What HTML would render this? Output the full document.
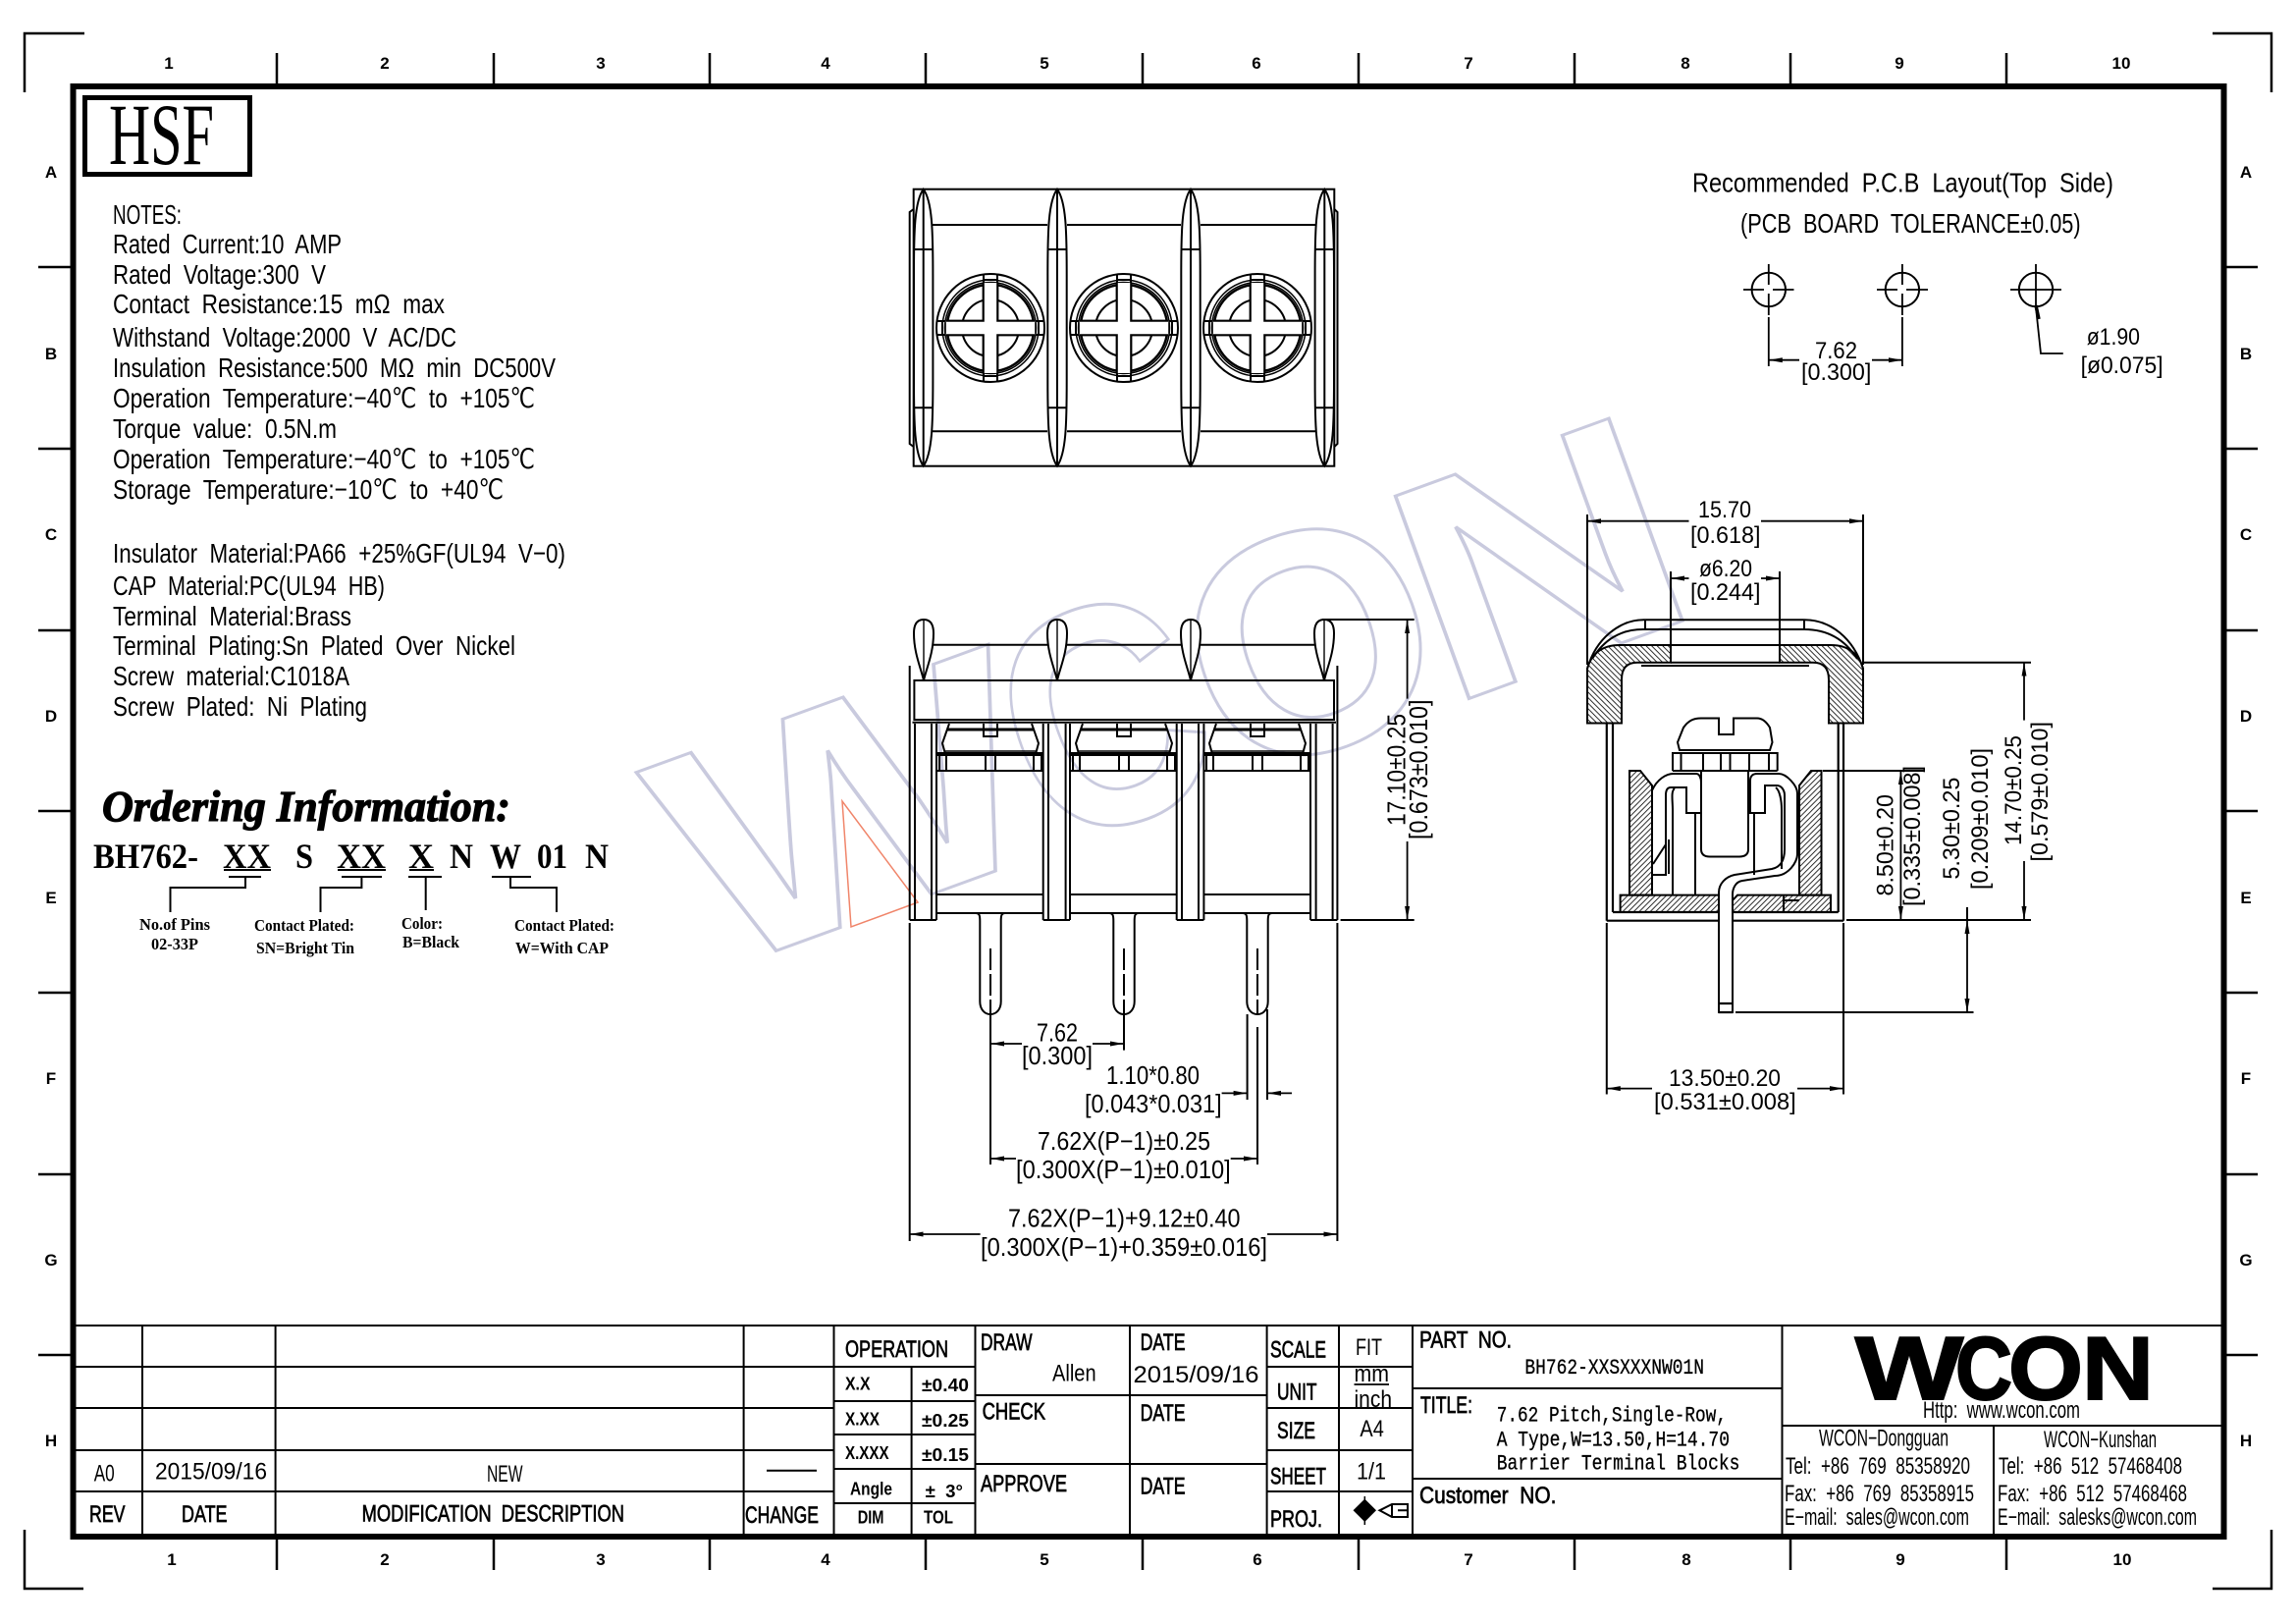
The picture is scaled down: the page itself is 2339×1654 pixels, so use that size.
<!DOCTYPE html>
<html><head><meta charset="utf-8"><style>
html,body{margin:0;padding:0;background:#fff}
svg{display:block}
text{font-family:"Liberation Sans",sans-serif;fill:#000;white-space:pre}
.d{font-size:26px}.s{font-size:24px}.n{font-size:28px}
.b{font-size:24px;font-weight:bold}
.t{font-size:24px}
.tb{stroke:#000;stroke-width:.7}
.m{font-size:22px;font-family:"Liberation Mono",monospace;stroke:#000;stroke-width:.3}
.o{font-family:"Liberation Serif",serif;font-weight:bold}
.g{font-size:17px;font-family:"Liberation Serif",serif;font-weight:bold}
.l{fill:none;stroke:#000;stroke-width:2}
.a{fill:none;stroke:#000;stroke-width:1.8;marker-start:url(#ar);marker-end:url(#ar)}
.e{fill:none;stroke:#000;stroke-width:1.8;marker-end:url(#ar)}
.w{font-size:319px;font-weight:bold;fill:none;stroke:#c9cade;stroke-width:3}
</style></head><body>
<svg xmlns="http://www.w3.org/2000/svg" width="2339" height="1654" viewBox="0 0 2339 1654">
<defs>
<marker id="ar" markerUnits="userSpaceOnUse" markerWidth="16" markerHeight="8" refX="14" refY="4" orient="auto-start-reverse"><path d="M0 1.5L14 4L0 6.5z" fill="#000"/></marker>
<pattern id="h1" patternUnits="userSpaceOnUse" width="5.6" height="5.6"><path d="M-1 -1L6.6 6.6M-1 4.6L1 6.6M4.6 -1L6.6 1" stroke="#000" stroke-width=".8"/></pattern>
<pattern id="h2" patternUnits="userSpaceOnUse" width="5.6" height="5.6"><path d="M-1 6.6L6.6 -1M-1 1L1 -1M4.6 6.6L6.6 4.6" stroke="#000" stroke-width=".8"/></pattern>
<g id="rib" class="l"><path d="M0 192.7C-9 205 -9.7 235 -9.7 280L-9.7 387C-9.7 432 -9 462 0 474.7C9 462 9.7 432 9.7 387L9.7 280C9.7 235 9 205 0 192.7zM0 192.7V474.7M-9.7 254H9.7M-9.7 415.3H9.7"/></g>
<g id="scr" class="l">
<circle r="55"/><circle r="49" stroke-width="1.5"/><circle r="46.5" stroke-width="1.5"/><circle r="44.3" stroke-width="2.5"/><circle r="29"/>
<path d="M-7.3 -46V-7.3H-45V7.3H-7.3V46H7.3V7.3H45V-7.3H7.3V-46z" fill="#fff" stroke="none"/>
<path d="M-7.3 -46V-7.3H-45M-45 7.3H-7.3V46M7.3 46V7.3H45M45 -7.3H7.3V-46" stroke-width="2.2"/>
<path d="M-7 -55V-46M7 -55V-46M-7 -49H7M-7 46V55M7 46V55M-7 49H7M-55 -7H-46M-55 7H-46M-49 -7V7M46 -7H55M46 7H55M49 -7V7"/>
</g>
<g id="blade"><path class="l" style="fill:#fff" d="M0 693C-3 680 -10 665 -10 645C-10 635 -6 631 0 631C6 631 10 635 10 645C10 665 3 680 0 693z"/><path class="l" style="stroke-width:1.4" d="M0 631V693"/></g>
<g id="head" class="l">
<path d="M-42 737L-49 757L-46 768M42 737L49 757L46 768"/>
<path d="M-44 743H44" stroke-width="3"/>
<path d="M-47 765H47" stroke-width="1.6"/>
<path d="M-7 737V750H7V737"/>
<path d="M-55 768H54" stroke-width="4"/><path d="M-55 785H54"/>
<path d="M-45 768V785M-5 768V785M5 768V785M44 768V785M-52 768V785M52 768V785"/>
</g>
<g id="pin" class="l">
<path d="M-15 930C-11 930 -10.7 933 -10.7 938V1020C-10.7 1028 -6 1033 0 1033C6 1033 10.7 1028 10.7 1020V938C10.7 933 11 930 15 930"/>
</g>
</defs>

<!-- watermark -->
<g transform="translate(723,993) rotate(-20)">
<text class="w" x="0" y="0" textLength="382" lengthAdjust="spacingAndGlyphs">W</text>
<text class="w" x="367" y="0" textLength="199" lengthAdjust="spacingAndGlyphs">C</text>
<text class="w" x="565" y="0" textLength="250" lengthAdjust="spacingAndGlyphs">O</text>
<text class="w" x="797" y="0" textLength="284" lengthAdjust="spacingAndGlyphs">N</text>
</g>
<path d="M858 816L867 944L935 919z" fill="none" stroke="#f0856a" stroke-width="1.5"/>

<!-- frame -->
<rect x="74.5" y="88" width="2191" height="1477" fill="none" stroke="#000" stroke-width="6"/>
<g class="l">
<path d="M25 94V34H86M2254 34H2314V94M25 1558V1618H85M2254 1618H2314V1558" stroke-width="2.5"/>
<path stroke-width="2.5" d="M282 54V86M503 54V86M723 54V86M943 54V86M1164 54V86M1384 54V86M1604 54V86M1824 54V86M2044 54V86
M282 1568V1599M503 1568V1599M723 1568V1599M943 1568V1599M1164 1568V1599M1384 1568V1599M1604 1568V1599M1824 1568V1599M2044 1568V1599
M39 272H72M39 457H72M39 642H72M39 826H72M39 1011H72M39 1196H72M39 1380H72
M2268 272H2300M2268 457H2300M2268 642H2300M2268 826H2300M2268 1011H2300M2268 1196H2300M2268 1380H2300"/>
</g>
<g style="font-weight:bold;font-size:17px" text-anchor="middle">
<text x="172" y="70">1</text><text x="392" y="70">2</text><text x="612" y="70">3</text><text x="841" y="70">4</text><text x="1064" y="70">5</text><text x="1280" y="70">6</text><text x="1496" y="70">7</text><text x="1717" y="70">8</text><text x="1935" y="70">9</text><text x="2161" y="70">10</text>
<text x="175" y="1594">1</text><text x="392" y="1594">2</text><text x="612" y="1594">3</text><text x="841" y="1594">4</text><text x="1064" y="1594">5</text><text x="1281" y="1594">6</text><text x="1496" y="1594">7</text><text x="1718" y="1594">8</text><text x="1936" y="1594">9</text><text x="2162" y="1594">10</text>
<text x="52" y="181">A</text><text x="52" y="366">B</text><text x="52" y="550">C</text><text x="52" y="735">D</text><text x="52" y="920">E</text><text x="52" y="1104">F</text><text x="52" y="1289">G</text><text x="52" y="1473">H</text>
<text x="2288" y="181">A</text><text x="2288" y="366">B</text><text x="2288" y="550">C</text><text x="2288" y="735">D</text><text x="2288" y="920">E</text><text x="2288" y="1104">F</text><text x="2288" y="1289">G</text><text x="2288" y="1473">H</text>
</g>

<!-- HSF -->
<rect x="86.5" y="99.5" width="168" height="78" fill="none" stroke="#000" stroke-width="5"/>
<text x="111" y="167" textLength="107" lengthAdjust="spacingAndGlyphs" style="font-family:'Liberation Serif',serif;font-size:89px">HSF</text>

<!-- notes -->
<g>
<text class="n" x="115" y="228" textLength="70" lengthAdjust="spacingAndGlyphs">NOTES:</text>
<text class="n" x="115" y="258" textLength="233" lengthAdjust="spacingAndGlyphs">Rated  Current:10  AMP</text>
<text class="n" x="115" y="289" textLength="217" lengthAdjust="spacingAndGlyphs">Rated  Voltage:300  V</text>
<text class="n" x="115" y="319" textLength="338" lengthAdjust="spacingAndGlyphs">Contact  Resistance:15  mΩ  max</text>
<text class="n" x="115" y="353" textLength="350" lengthAdjust="spacingAndGlyphs">Withstand  Voltage:2000  V  AC/DC</text>
<text class="n" x="115" y="384" textLength="451" lengthAdjust="spacingAndGlyphs">Insulation  Resistance:500  MΩ  min  DC500V</text>
<text class="n" x="115" y="415" textLength="430" lengthAdjust="spacingAndGlyphs">Operation  Temperature:−40℃  to  +105℃</text>
<text class="n" x="115" y="446" textLength="228" lengthAdjust="spacingAndGlyphs">Torque  value:  0.5N.m</text>
<text class="n" x="115" y="477" textLength="430" lengthAdjust="spacingAndGlyphs">Operation  Temperature:−40℃  to  +105℃</text>
<text class="n" x="115" y="508" textLength="398" lengthAdjust="spacingAndGlyphs">Storage  Temperature:−10℃  to  +40℃</text>
<text class="n" x="115" y="573" textLength="461" lengthAdjust="spacingAndGlyphs">Insulator  Material:PA66  +25%GF(UL94  V−0)</text>
<text class="n" x="115" y="606" textLength="277" lengthAdjust="spacingAndGlyphs">CAP  Material:PC(UL94  HB)</text>
<text class="n" x="115" y="637" textLength="243" lengthAdjust="spacingAndGlyphs">Terminal  Material:Brass</text>
<text class="n" x="115" y="667" textLength="410" lengthAdjust="spacingAndGlyphs">Terminal  Plating:Sn  Plated  Over  Nickel</text>
<text class="n" x="115" y="698" textLength="241" lengthAdjust="spacingAndGlyphs">Screw  material:C1018A</text>
<text class="n" x="115" y="729" textLength="259" lengthAdjust="spacingAndGlyphs">Screw  Plated:  Ni  Plating</text>
</g>

<!-- ordering -->
<text x="104" y="836" textLength="416" lengthAdjust="spacingAndGlyphs" style="font-family:'Liberation Serif',serif;font-weight:bold;font-style:italic;font-size:44px;stroke:#000;stroke-width:1.2">Ordering Information:</text>
<g>
<text class="o" style="font-size:36px" x="95" y="884" textLength="107" lengthAdjust="spacingAndGlyphs">BH762-</text>
<text class="o" style="font-size:36px" x="227" y="884" textLength="49" lengthAdjust="spacingAndGlyphs">XX</text>
<text class="o" style="font-size:36px" x="301" y="884" textLength="18" lengthAdjust="spacingAndGlyphs">S</text>
<text class="o" style="font-size:36px" x="343" y="884" textLength="50" lengthAdjust="spacingAndGlyphs">XX</text>
<text class="o" style="font-size:36px" x="416" y="884" textLength="26" lengthAdjust="spacingAndGlyphs">X</text>
<text class="o" style="font-size:36px" x="458" y="884" textLength="24" lengthAdjust="spacingAndGlyphs">N</text>
<text class="o" style="font-size:36px" x="499" y="884" textLength="32" lengthAdjust="spacingAndGlyphs">W</text>
<text class="o" style="font-size:36px" x="547" y="884" textLength="31" lengthAdjust="spacingAndGlyphs">01</text>
<text class="o" style="font-size:36px" x="596" y="884" textLength="24" lengthAdjust="spacingAndGlyphs">N</text>
</g>
<path class="l" d="M228 886H276M344 886H393M417 886H442M233 893H266M348 893H389M416 893H450M501 893H541M250 893V904H173.5V929M368.4 893V904H326.5V929M433.7 893V927M520 893V904H567V929"/>
<text class="g" x="142" y="947" textLength="72" lengthAdjust="spacingAndGlyphs">No.of Pins</text>
<text class="g" x="154" y="967" textLength="48" lengthAdjust="spacingAndGlyphs">02-33P</text>
<text class="g" x="259" y="948" textLength="102" lengthAdjust="spacingAndGlyphs">Contact Plated:</text>
<text class="g" x="261" y="971" textLength="100" lengthAdjust="spacingAndGlyphs">SN=Bright Tin</text>
<text class="g" x="409" y="946" textLength="42" lengthAdjust="spacingAndGlyphs">Color:</text>
<text class="g" x="410" y="965" textLength="58" lengthAdjust="spacingAndGlyphs">B=Black</text>
<text class="g" x="524" y="948" textLength="102" lengthAdjust="spacingAndGlyphs">Contact Plated:</text>
<text class="g" x="525" y="971" textLength="95" lengthAdjust="spacingAndGlyphs">W=With CAP</text>

<!-- top view -->
<rect class="l" x="930.7" y="192.7" width="428.6" height="282" stroke-width="2.2"/>
<path class="l" stroke-width="2.2" d="M950 229H1067M1087 229H1203M1223 229H1340M950 439.3H1067M1087 439.3H1203M1223 439.3H1340M930.7 213L926.7 216V452L930.7 455M1359.3 213L1362.5 216V452L1359.3 455"/>
<use href="#rib" x="940.7"/><use href="#rib" x="1077"/><use href="#rib" x="1213"/><use href="#rib" x="1349.3"/>
<use href="#scr" x="1009" y="334"/><use href="#scr" x="1145" y="334"/><use href="#scr" x="1281" y="334"/>

<!-- front view -->
<path class="l" d="M931 656.7H1359"/>
<use href="#blade" x="941"/><use href="#blade" x="1077"/><use href="#blade" x="1213"/><use href="#blade" x="1349"/>
<path class="l" d="M931.4 693H1359V733H931.4zM929.5 735.7H1361M926.7 678V937M1362.4 678V937" stroke-width="2"/>
<path class="l" stroke-width="2" d="M954 737V937M1062.7 737V937M1090 737V937M1198.7 737V937M1226.4 737V937M1335 737V937
M932 737V937M949 737V937M1068 737V937M1085.6 737V937M1204 737V937M1221 737V937M1340.6 737V937M1357.6 737V937
M926.7 937H954M1062.7 937H1090M1198.7 937H1226.4M1335 937H1362.4
M954 911H1062.7M1090 911H1198.7M1226.4 911H1335M954 930H1062.7M1090 930H1198.7M1226.4 930H1335"/>
<use href="#head" x="1009"/><use href="#head" x="1145"/><use href="#head" x="1281"/>
<use href="#pin" x="1009"/><use href="#pin" x="1145"/><use href="#pin" x="1281"/>
<path class="l" stroke-width="1.8" d="M1009 966V1033M1145 966V1033M1281 966V1033" stroke-dasharray="22 4"/>

<!-- front dims -->
<path class="l" stroke-width="1.8" d="M1347 631H1440.7M1365.6 937H1440.7M926.7 940V1264M1362.4 940V1264M1009 1033V1186M1145 1033V1069.6M1281 1046V1186M1270.6 1033V1120M1291 1028V1120"/>
<path class="e" d="M1433.6 711.6V631"/><path class="e" d="M1433.6 857V937"/>
<path class="e" d="M1041 1063H1009"/><path class="e" d="M1113 1063H1145"/>
<path class="e" d="M1244.6 1113.4H1270.6"/><path class="e" d="M1316 1113.4H1291"/>
<path class="e" d="M1035 1180H1009"/><path class="e" d="M1253.7 1180H1281"/>
<path class="e" d="M998.6 1257H926.7"/><path class="e" d="M1291 1257H1362.4"/>
<text class="d" transform="translate(1431.6,841) rotate(-90)" textLength="114" lengthAdjust="spacingAndGlyphs">17.10±0.25</text>
<text class="d" transform="translate(1454,855) rotate(-90)" textLength="142.5" lengthAdjust="spacingAndGlyphs">[0.673±0.010]</text>
<text class="d" x="1056" y="1060.7" textLength="42" lengthAdjust="spacingAndGlyphs">7.62</text>
<text class="d" x="1041" y="1084" textLength="72" lengthAdjust="spacingAndGlyphs">[0.300]</text>
<text class="d" x="1127" y="1104" textLength="95" lengthAdjust="spacingAndGlyphs">1.10*0.80</text>
<text class="d" x="1105" y="1133" textLength="139.6" lengthAdjust="spacingAndGlyphs">[0.043*0.031]</text>
<text class="d" x="1057" y="1171" textLength="176" lengthAdjust="spacingAndGlyphs">7.62X(P−1)±0.25</text>
<text class="d" x="1035" y="1200" textLength="218.7" lengthAdjust="spacingAndGlyphs">[0.300X(P−1)±0.010]</text>
<text class="d" x="1027" y="1249.5" textLength="236.5" lengthAdjust="spacingAndGlyphs">7.62X(P−1)+9.12±0.40</text>
<text class="d" x="999" y="1279" textLength="292" lengthAdjust="spacingAndGlyphs">[0.300X(P−1)+0.359±0.016]</text>

<!-- side view -->
<g class="l" stroke-width="2">
<path d="M1617 681C1626 650 1650 631.3 1674.7 631.3H1838C1865 631.3 1888 650 1898 681"/>
<path d="M1622 671C1634 652 1650 641 1674 641H1838C1862 641 1880 652 1892 671M1676 631V641M1838 631V641M1702 657H1813"/>
<path d="M1617 736.5V681C1621 666 1632 657 1650 657H1702V674.7H1668C1657 674.7 1652 681 1652 692V736.5z" style="fill:url(#h1)"/>
<path d="M1898 736.5V681C1894 666 1883 657 1865 657H1813V674.7H1847C1858 674.7 1863 681 1863 692V736.5z" style="fill:url(#h1)"/>
<path d="M1672 678H1843"/>
<path d="M1702 674.7H1813"/>
<path d="M1636.8 736.5V937.7M1643 736.5V929M1872.7 736.5V929M1878 736.5V937.7M1636.8 937.7H1878M1643 929H1872.7" stroke-width="2.2"/>
<path d="M1660 785H1671L1683 800V911.6H1660z" style="fill:url(#h2)"/>
<path d="M1833 800L1845 785H1855.5V911.6H1833z" style="fill:url(#h2)"/>
<path d="M1650.6 929V911.6H1751V929M1765 929V917L1770 911.6H1865V929" style="fill:url(#h2)"/>
<path d="M1817 911.6V929H1833M1817 917H1833"/>
<path d="M1709 756L1715 741C1720 734 1725 731.5 1733 731.5H1751V748H1766V731.5H1790C1796 731.5 1800 736 1803 741L1805.5 756L1803 764H1711z"/>
<path d="M1704 785V767H1810.7V785M1712.5 767V785M1735 767V785M1753 767V785M1762.5 767V785M1782 767V785M1802 767V785M1704 785H1810.7"/>
<path d="M1733 785V865C1733 870 1736 872.5 1742 872.5H1772C1778 872.5 1781 870 1781 865V785"/>
<path d="M1683 891V805C1688 794 1697 788 1705 788H1728C1731 788 1733 792 1733 797V828H1718V802H1702C1698 802 1697 806 1697 810V891H1683M1706 803C1702 806 1704 815 1704 825V911M1727 828V911M1697 860L1684 880M1700 855V890"/>
<path d="M1783 828V795C1783 790 1786 788 1790 788H1812C1820 788 1831 800 1831 808V870C1831 878 1822 892 1808 892L1775 897C1768 898 1765 905 1765 911V1031H1751V909C1751 900 1758 893 1767 891L1805 885C1815 883 1818 875 1818 865V810C1818 805 1815 800 1810 800H1798V828H1783z" style="fill:#fff"/>
<path d="M1787 828V891M1809 802C1813 805 1815 815 1815 825V885"/>
<path d="M1751 1031H1765M1751 1022H1765" stroke-width="2.2"/>
</g>
<!-- side dims -->
<path class="l" stroke-width="1.8" d="M1617 524V677M1898 524V677M1702 582V672.5M1813 582V672.5M1636.8 940V1114.5M1878 940V1114.5M1857 785H1960.5M1898.5 674.7H2069M1881 937H2069M1768 1031H2010.5M2004 924V937"/>
<path class="e" d="M1720.5 530.7H1617"/><path class="e" d="M1794 530.7H1898"/>
<path class="e" d="M1720.5 589H1702"/><path class="e" d="M1794 589H1813"/>
<path class="e" d="M1683 1108.6H1636.8"/><path class="e" d="M1831 1108.6H1878"/>
<path class="a" d="M1936.4 785V937"/><path class="a" d="M2004 937V1031"/>
<path class="e" d="M2062 733.6V674.7"/><path class="e" d="M2062 877V937"/>
<text class="s" x="1730" y="527" textLength="54" lengthAdjust="spacingAndGlyphs">15.70</text>
<text class="s" x="1722" y="553" textLength="71.5" lengthAdjust="spacingAndGlyphs">[0.618]</text>
<text class="s" x="1731" y="587" textLength="54" lengthAdjust="spacingAndGlyphs">ø6.20</text>
<text class="s" x="1722" y="611" textLength="71.5" lengthAdjust="spacingAndGlyphs">[0.244]</text>
<text class="s" x="1700" y="1106" textLength="114" lengthAdjust="spacingAndGlyphs">13.50±0.20</text>
<text class="s" x="1685" y="1130" textLength="144.7" lengthAdjust="spacingAndGlyphs">[0.531±0.008]</text>
<text class="s" transform="translate(1928.5,912.5) rotate(-90)" textLength="103.5" lengthAdjust="spacingAndGlyphs">8.50±0.20</text>
<text class="s" transform="translate(1956,923) rotate(-90)" textLength="143" lengthAdjust="spacingAndGlyphs">[0.335±0.008]</text>
<text class="s" transform="translate(1996,895.6) rotate(-90)" textLength="104" lengthAdjust="spacingAndGlyphs">5.30±0.25</text>
<text class="s" transform="translate(2025,906) rotate(-90)" textLength="144" lengthAdjust="spacingAndGlyphs">[0.209±0.010]</text>
<text class="s" transform="translate(2059,861) rotate(-90)" textLength="112" lengthAdjust="spacingAndGlyphs">14.70±0.25</text>
<text class="s" transform="translate(2086,877.5) rotate(-90)" textLength="142.5" lengthAdjust="spacingAndGlyphs">[0.579±0.010]</text>

<!-- pcb layout -->
<text class="n" x="1724" y="195.7" textLength="429" lengthAdjust="spacingAndGlyphs">Recommended  P.C.B  Layout(Top  Side)</text>
<text class="n" x="1773" y="237" textLength="346.6" lengthAdjust="spacingAndGlyphs">(PCB  BOARD  TOLERANCE±0.05)</text>
<g class="l"><circle cx="1801.8" cy="295" r="17.2"/><circle cx="1937.9" cy="295" r="17.2"/><circle cx="2074" cy="295" r="17.2"/>
<path stroke-width="1.8" d="M1776 295H1797M1806 295H1827.5M1912 295H1933M1942 295H1964M2048 295H2100M1801.8 269V290M1801.8 299V321M1937.9 269V290M1937.9 299V321M2074 269V313M1801.8 323V373M1937.9 323V373"/>
<path d="M2074 313L2079 360H2101.8" stroke-width="1.8"/><path d="M2074 311L2077 325" stroke-width="3.5"/></g>
<path class="e" d="M1833 366.7H1801.8"/><path class="e" d="M1907 366.7H1938"/>
<text class="s" x="1849" y="365" textLength="43" lengthAdjust="spacingAndGlyphs">7.62</text>
<text class="s" x="1835" y="387" textLength="71.4" lengthAdjust="spacingAndGlyphs">[0.300]</text>
<text class="s" x="2125.7" y="351" textLength="54.3" lengthAdjust="spacingAndGlyphs">ø1.90</text>
<text class="s" x="2119.6" y="380" textLength="84" lengthAdjust="spacingAndGlyphs">[ø0.075]</text>

<!-- title block lines -->
<g class="l" stroke-width="2.5">
<path d="M75 1350H2265M75 1392H850M75 1434H850M75 1477H850M75 1519H850M145 1350V1562M280.6 1350V1562M757.6 1350V1562M849.5 1350V1562M928.6 1392V1562M993.5 1350V1562"/>
<path d="M849.5 1392H993.5M849.5 1427H993.5M849.5 1461H993.5M849.5 1496H993.5M849.5 1531H993.5"/>
<path d="M993.5 1421H1290.6M993.5 1491H1290.6M1151 1350V1562M1290.6 1350V1562M1364 1350V1562M1439 1350V1562M1290.6 1392H1439M1290.6 1434H1439M1290.6 1477H1439M1290.6 1519H1439"/>
<path d="M1439 1414H1815M1439 1506H1815M1815.5 1350V1562M1815.5 1452H2265M2031 1452V1562"/>
</g>
<path d="M781 1497.7H832" stroke="#000" stroke-width="2"/>

<!-- title block text -->
<text class="t tb" x="861" y="1382" textLength="105" lengthAdjust="spacingAndGlyphs">OPERATION</text>
<g style="font-size:18px;font-weight:bold">
<text x="861" y="1415.7" textLength="25.5" lengthAdjust="spacingAndGlyphs">X.X</text>
<text x="939" y="1417" textLength="48" lengthAdjust="spacingAndGlyphs">±0.40</text>
<text x="861" y="1451.7" textLength="35" lengthAdjust="spacingAndGlyphs">X.XX</text>
<text x="939" y="1453" textLength="48" lengthAdjust="spacingAndGlyphs">±0.25</text>
<text x="861" y="1486" textLength="44.6" lengthAdjust="spacingAndGlyphs">X.XXX</text>
<text x="939" y="1488" textLength="48" lengthAdjust="spacingAndGlyphs">±0.15</text>
<text x="866" y="1522.7" textLength="43" lengthAdjust="spacingAndGlyphs">Angle</text>
<text x="942.6" y="1525" textLength="38.4" lengthAdjust="spacingAndGlyphs">±  3°</text>
<text x="873.7" y="1551.7" textLength="26.8" lengthAdjust="spacingAndGlyphs">DIM</text>
<text x="941" y="1551.7" textLength="30" lengthAdjust="spacingAndGlyphs">TOL</text>
</g>
<text class="t" x="95.7" y="1508.3" textLength="21" lengthAdjust="spacingAndGlyphs">A0</text>
<text class="t" x="158" y="1506.7" textLength="114" lengthAdjust="spacingAndGlyphs">2015/09/16</text>
<text class="t" x="496" y="1509" textLength="36.5" lengthAdjust="spacingAndGlyphs">NEW</text>
<text class="t tb" x="91" y="1550" textLength="36.5" lengthAdjust="spacingAndGlyphs">REV</text>
<text class="t tb" x="185" y="1550" textLength="46.5" lengthAdjust="spacingAndGlyphs">DATE</text>
<text class="t tb" x="368.6" y="1549.3" textLength="267.4" lengthAdjust="spacingAndGlyphs">MODIFICATION  DESCRIPTION</text>
<text class="t tb" x="759" y="1551" textLength="75" lengthAdjust="spacingAndGlyphs">CHANGE</text>
<text class="t tb" x="999" y="1375" textLength="52.5" lengthAdjust="spacingAndGlyphs">DRAW</text>
<text class="t" x="1072" y="1406.7" textLength="44.6" lengthAdjust="spacingAndGlyphs">Allen</text>
<text class="t tb" x="1161.6" y="1375" textLength="46" lengthAdjust="spacingAndGlyphs">DATE</text>
<text class="t" x="1154.5" y="1408" textLength="128" lengthAdjust="spacingAndGlyphs">2015/09/16</text>
<text class="t tb" x="1000.6" y="1445.7" textLength="64.4" lengthAdjust="spacingAndGlyphs">CHECK</text>
<text class="t tb" x="1161.6" y="1447" textLength="46" lengthAdjust="spacingAndGlyphs">DATE</text>
<text class="t tb" x="999" y="1519" textLength="88" lengthAdjust="spacingAndGlyphs">APPROVE</text>
<text class="t tb" x="1161.6" y="1521.7" textLength="46" lengthAdjust="spacingAndGlyphs">DATE</text>
<text class="t tb" x="1294" y="1382.3" textLength="57" lengthAdjust="spacingAndGlyphs">SCALE</text>
<text class="t" x="1381" y="1380" textLength="27" lengthAdjust="spacingAndGlyphs">FIT</text>
<text class="t tb" x="1301" y="1425.7" textLength="40.5" lengthAdjust="spacingAndGlyphs">UNIT</text>
<text class="t" x="1379.5" y="1407" textLength="35.5" lengthAdjust="spacingAndGlyphs">mm</text>
<path d="M1379.5 1410H1415" stroke="#000" stroke-width="1.8"/>
<text class="t" x="1379.5" y="1433" textLength="38.5" lengthAdjust="spacingAndGlyphs">inch</text>
<text class="t tb" x="1301" y="1465" textLength="39" lengthAdjust="spacingAndGlyphs">SIZE</text>
<text class="t" x="1385.4" y="1463" textLength="24.4" lengthAdjust="spacingAndGlyphs">A4</text>
<text class="t tb" x="1294" y="1511.7" textLength="57" lengthAdjust="spacingAndGlyphs">SHEET</text>
<text class="t" x="1382" y="1506.7" textLength="30" lengthAdjust="spacingAndGlyphs">1/1</text>
<text class="t tb" x="1294" y="1555" textLength="53" lengthAdjust="spacingAndGlyphs">PROJ.</text>
<path d="M1390.3 1526.6L1402 1538.3L1390.3 1550L1378.5 1538.3z"/><path d="M1390.3 1524V1553" stroke="#000" stroke-width="1.5"/>
<path class="l" stroke-width="2.4" d="M1405.5 1538.3L1418 1532H1434V1545H1418zM1418 1532V1545M1424 1538.3H1434"/>
<text class="t tb" x="1446" y="1372.7" textLength="94" lengthAdjust="spacingAndGlyphs">PART  NO.</text>
<text class="m" x="1553.4" y="1399" textLength="182.6" lengthAdjust="spacingAndGlyphs">BH762-XXSXXXNW01N</text>
<text class="t tb" x="1447" y="1439" textLength="53" lengthAdjust="spacingAndGlyphs">TITLE:</text>
<text class="m" x="1524.7" y="1447.7" textLength="234.3" lengthAdjust="spacingAndGlyphs">7.62 Pitch,Single-Row,</text>
<text class="m" x="1524.7" y="1472.7" textLength="237.3" lengthAdjust="spacingAndGlyphs">A Type,W=13.50,H=14.70</text>
<text class="m" x="1524.7" y="1496.7" textLength="247.7" lengthAdjust="spacingAndGlyphs">Barrier Terminal Blocks</text>
<text class="t tb" x="1446" y="1531" textLength="139.4" lengthAdjust="spacingAndGlyphs">Customer  NO.</text>

<!-- logo -->
<g style="font-size:91px;font-weight:bold;stroke:#000;stroke-width:2">
<text x="1890" y="1425" textLength="110" lengthAdjust="spacingAndGlyphs">W</text>
<text x="1992" y="1425" textLength="58" lengthAdjust="spacingAndGlyphs">C</text>
<text x="2046" y="1425" textLength="76" lengthAdjust="spacingAndGlyphs">O</text>
<text x="2121" y="1425" textLength="73" lengthAdjust="spacingAndGlyphs">N</text>
</g>
<path d="M1944.3 1385L1933 1425M1944.3 1385L1957.4 1425" stroke="#fff" stroke-width="1" stroke-dasharray="3 2" fill="none"/>
<text class="t" x="1959" y="1444" textLength="160" lengthAdjust="spacingAndGlyphs">Http:  www.wcon.com</text>
<text class="t" x="1853" y="1472.7" textLength="132" lengthAdjust="spacingAndGlyphs">WCON−Dongguan</text>
<text class="t" x="1819" y="1501" textLength="188" lengthAdjust="spacingAndGlyphs">Tel:  +86  769  85358920</text>
<text class="t" x="1818" y="1529" textLength="193" lengthAdjust="spacingAndGlyphs">Fax:  +86  769  85358915</text>
<text class="t" x="1818" y="1553" textLength="188" lengthAdjust="spacingAndGlyphs">E−mail:  sales@wcon.com</text>
<text class="t" x="2082" y="1474" textLength="115" lengthAdjust="spacingAndGlyphs">WCON−Kunshan</text>
<text class="t" x="2036" y="1501" textLength="187" lengthAdjust="spacingAndGlyphs">Tel:  +86  512  57468408</text>
<text class="t" x="2035" y="1529" textLength="193" lengthAdjust="spacingAndGlyphs">Fax:  +86  512  57468468</text>
<text class="t" x="2035" y="1553" textLength="203" lengthAdjust="spacingAndGlyphs">E−mail:  salesks@wcon.com</text>
</svg>
</body></html>
